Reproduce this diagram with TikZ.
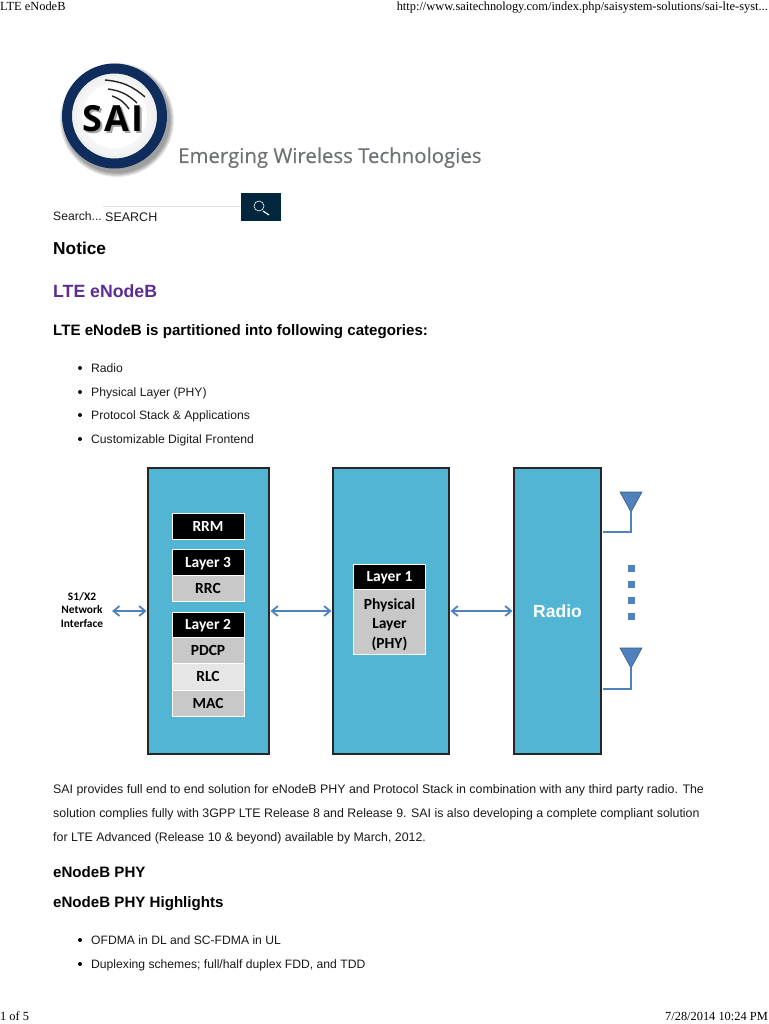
\documentclass[tikz,border=0pt]{standalone}
\usepackage{fontspec}
\setmainfont{Liberation Sans}
\newfontfamily\serifhead{Liberation Serif}
\newfontfamily\cellfont{Carlito}
\newfontfamily\logofont{Open Sans}
\newfontfamily\slogandfont[FakeBold=0.35]{Open Sans}
\newfontfamily\saifont[LetterSpace=7]{Open Sans}
\definecolor{blockblue}{HTML}{52B5D4}
\definecolor{arrowblue}{HTML}{4F81BD}
\definecolor{cellgray}{HTML}{C8C8C8}
\definecolor{celllight}{HTML}{E6E6E6}
\definecolor{navy}{HTML}{0E2D5C}
\definecolor{buttonnavy}{HTML}{03263F}
\definecolor{titlepurple}{HTML}{5B2C91}
\definecolor{sloganinkgray}{HTML}{6F7274}
\tikzset{
    pagetext/.style = {anchor=base west, inner sep=0pt, font=\fontsize{12.15}{14}\selectfont, text=black!90},
    bodytext/.style = {pagetext, font=\fontsize{12.38}{14}\selectfont},
    subhead/.style = {pagetext, font=\fontsize{15.1}{17}\bfseries\selectfont, text=black},
    stamp/.style = {inner sep=0pt, font=\fontsize{12.4}{14}\serifhead\selectfont, text=black},
    block/.style = {draw=black!85, line width=2pt, fill=blockblue, minimum height=286pt, outer sep=1.5pt},
    headcell/.style = {draw=white, line width=0.7pt, fill=black, text=white, minimum width=72pt, text height=10pt, text depth=0pt, font=\fontsize{15.5}{19.5}\cellfont\bfseries\selectfont},
    bodycell/.style = {draw=white, line width=0.7pt, fill=cellgray, text=black, minimum width=72pt, font=\fontsize{15.5}{19.5}\cellfont\bfseries\selectfont},
    stackcell/.style = {bodycell, text height=10pt, text depth=0pt},
    biarrow/.style = {<->, >={Straight Barb[length=6pt,width=10pt]}, draw=arrowblue, line width=1.8pt},
    wire/.style = {draw=arrowblue, line width=1.2pt},
    antenna/.style = {fill=arrowblue, draw=arrowblue!70!black, line width=0.6pt},
    dotsquare/.style = {fill=arrowblue, inner sep=0pt, minimum size=7pt}
}
\usetikzlibrary{arrows.meta}
\begin{document}
\begin{tikzpicture}[x=1pt,y=-1pt]
    \useasboundingbox (0,0) rectangle (768,1024);

    \node[stamp, anchor=base west] (headleft) at (0,11) {LTE eNodeB};
    \node[stamp, anchor=base east] (headright) at (768,11) {http://www.saitechnology.com/index.php/saisystem-solutions/sai-lte-syst...};
    \node[stamp, anchor=base west] (footleft) at (0,1020) {1 of 5};
    \node[stamp, anchor=base east] (footright) at (768,1020) {7/28/2014 10:24 PM};

    \foreach \r in {57,56,55,54,53}
        \fill[black, opacity=0.09] (117,120) circle (\r);
    \draw[navy, line width=10pt, fill=white] (114.5,116) circle (47.5);
    \foreach \r in {41.5,39.5,37,34}
        \draw[black, opacity=0.04, line width=3pt] (114.5,116) circle (\r);
    \draw[black!85, line width=1.4pt] (105,80) to[bend left=18] (145,97);
    \draw[black!85, line width=1.4pt] (108,89) to[bend left=18] (137,103);
    \draw[black!85, line width=1.4pt] (112,96) to[bend left=18] (129,109);
    \node[text=black!35, font=\fontsize{36}{40}\saifont\bfseries\selectfont] (saishadow) at (115,121) {SAI};
    \node[text=black, font=\fontsize{36}{40}\saifont\bfseries\selectfont] (sailogo) at (113,119) {SAI};
    \node[anchor=base west, inner sep=0pt, text=sloganinkgray, font=\fontsize{20.4}{22}\slogandfont\selectfont] (slogan) at (178,163) {Emerging Wireless Technologies};

    \node[pagetext] (searchlabel) at (53,221) {Search...};
    \draw[black!12, line width=0.5pt] (103,206) -- (241,206);
    \node[pagetext, font=\fontsize{12.5}{14}\selectfont] (searchfield) at (105,222) {SEARCH};
    \node[fill=buttonnavy, minimum width=40pt, minimum height=28pt, inner sep=0pt] (searchbutton) at (261,207) {};
    \draw[white, line width=0.6pt] (259,206) circle (5);
    \draw[white, line width=1.2pt] (263,211) -- (269,215);

    \node[subhead, font=\fontsize{17.3}{19}\bfseries\selectfont] (notice) at (53,254) {Notice};
    \node[subhead, font=\fontsize{17.7}{19}\bfseries\selectfont, text=titlepurple] (title) at (53,297) {LTE eNodeB};
    \node[subhead] (partition) at (53,335) {LTE eNodeB is partitioned into following categories:};

    \foreach \y/\t in {372/Radio,396/Physical Layer (PHY),419/Protocol Stack \& Applications,443/Customizable Digital Frontend}{
        \fill[black] (80,\y-4) circle (2);
        \node[pagetext] (item\y) at (91,\y) {\t};
    }

    \node[block, minimum width=121pt] (protocol) at (208.5,611) {};
    \node[block, minimum width=116pt] (phy) at (391,611) {};
    \node[block, minimum width=87pt, text=white, font=\fontsize{17.5}{19}\bfseries\selectfont] (radio) at (557.5,611) {Radio};

    \node[headcell, minimum height=26pt] (rrm) at (208,526) {RRM};
    \node[headcell, minimum height=26pt] (layerthree) at (208,562) {Layer 3};
    \node[stackcell, minimum height=26pt] (rrc) at (208,588) {RRC};
    \node[headcell, minimum height=25pt] (layertwo) at (208,624.5) {Layer 2};
    \node[stackcell, minimum height=26pt] (pdcp) at (208,650) {PDCP};
    \node[stackcell, minimum height=27pt, fill=celllight] (rlc) at (208,676.5) {RLC};
    \node[stackcell, minimum height=26pt] (mac) at (208,703) {MAC};

    \node[headcell, minimum height=25pt] (layerone) at (389.5,576.5) {Layer 1};
    \node[bodycell, minimum height=65pt, align=center, inner sep=0pt] (physical) at (389.5,621.5) {\rule{0pt}{17pt}Physical\\Layer\\(PHY)};

    \node[align=center, inner sep=0pt, outer sep=9pt, font=\fontsize{11.4}{13.5}\cellfont\bfseries\selectfont] (network) at (82,610) {S1/X2\\Network\\Interface};

    \draw[biarrow] (network.east |- protocol) -- (protocol);
    \draw[biarrow] (protocol) -- (phy);
    \draw[biarrow] (phy) -- (radio);

    \coordinate (topfeed) at (631,512);
    \coordinate (bottomfeed) at (631,668);
    \draw[wire] (radio.east |- 0,532) -| (topfeed);
    \draw[wire] (radio.east |- 0,689) -| (bottomfeed);
    \draw[antenna] (620,492) -- (642,492) -- (topfeed) -- cycle;
    \draw[antenna] (620,648) -- (642,648) -- (bottomfeed) -- cycle;
    \foreach \y in {568,584,600,616}
        \node[dotsquare] (dot\y) at (631,\y) {};

    \node[bodytext] (bodyone) at (53,793) {SAI provides full end to end solution for eNodeB PHY and Protocol Stack in combination with any third party radio. The};
    \node[bodytext] (bodytwo) at (53,817) {solution complies fully with 3GPP LTE Release 8 and Release 9. SAI is also developing a complete compliant solution};
    \node[bodytext] (bodythree) at (53,841) {for LTE Advanced (Release 10 \& beyond) available by March, 2012.};

    \node[subhead] (phyhead) at (53,877) {eNodeB PHY};
    \node[subhead] (phyhighlights) at (53,907) {eNodeB PHY Highlights};

    \foreach \y/\t in {944/OFDMA in DL and SC-FDMA in UL,968/{Duplexing schemes; full/half duplex FDD, and TDD}}{
        \fill[black] (80,\y-4) circle (2);
        \node[pagetext] (item\y) at (91,\y) {\t};
    }
\end{tikzpicture}
\end{document}
